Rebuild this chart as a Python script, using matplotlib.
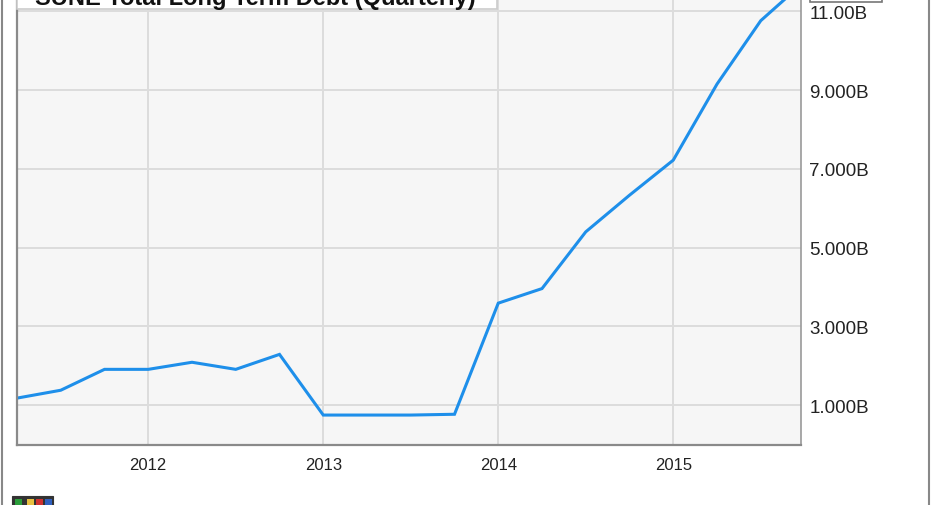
import matplotlib
matplotlib.use("Agg")
import matplotlib.pyplot as plt
from matplotlib.patches import Rectangle

plt.rcParams["font.family"] = ["Liberation Sans", "DejaVu Sans"]

# quarterly long term debt, billions USD
quarters = [2011.25, 2011.5, 2011.75, 2012.0, 2012.25, 2012.5, 2012.75,
            2013.0, 2013.25, 2013.5, 2013.75, 2014.0, 2014.25, 2014.5,
            2014.75, 2015.0, 2015.25, 2015.5, 2015.75]
debt = [1.18, 1.38, 1.91, 1.91, 2.09, 1.91, 2.29,
        0.75, 0.75, 0.75, 0.77, 3.59, 3.96, 5.40,
        6.33, 7.22, 9.15, 10.76, 11.75]

year_ticks = [2012, 2013, 2014, 2015]
y_ticks = [1, 3, 5, 7, 9, 11]
y_labels = ["1.000B", "3.000B", "5.000B", "7.000B", "9.000B", "11.00B"]
title = "SUNE Total Long Term Debt (Quarterly)"

W, H = 931, 506
fig = plt.figure(figsize=(W / 100, H / 100), dpi=100)
fig.patch.set_facecolor("white")

def fx(px): return px / W
def fy(py): return 1 - py / H

ax = fig.add_axes([fx(17), fy(446), fx(801) - fx(17), fy(0) - fy(446)])
ax.set_facecolor("#f6f6f6")
ax.plot(quarters, debt, color="#1e8fea", lw=2.2, solid_joinstyle="miter")
ax.set_xlim(2011.25, 2015.73)
ax.set_ylim(-0.01, 11.31)

ax.set_xticks(year_ticks)
ax.set_xticklabels([str(y) for y in year_ticks])
ax.set_yticks(y_ticks)
ax.set_yticklabels(y_labels)
ax.yaxis.tick_right()
ax.tick_params(axis="both", length=0, colors="#222222")
ax.tick_params(axis="y", pad=6, labelsize=13.5)
ax.tick_params(axis="x", pad=9, labelsize=12)
ax.grid(color="#dcdcdc", lw=1.4)
ax.set_axisbelow(True)
for s in ["left", "bottom"]:
    ax.spines[s].set_color("#8a8a8a")
    ax.spines[s].set_linewidth(1.6)
ax.spines["right"].set_color("#999999")
ax.spines["right"].set_linewidth(1.2)
ax.spines["top"].set_visible(False)

# title box (cut off at the top)
fig.patches.append(Rectangle((fx(17), fy(10)), fx(497) - fx(17), 0.1,
                             transform=fig.transFigure, facecolor="white",
                             edgecolor="#cccccc", lw=1.2, zorder=3))
fig.text(fx(35), fy(5), title, fontsize=17, fontweight="bold", color="#111111",
         va="baseline", ha="left", zorder=4)

# last value box on the right (cut off)
fig.patches.append(Rectangle((fx(810), fy(3)), fx(882) - fx(810), 0.1,
                             transform=fig.transFigure, facecolor="white",
                             edgecolor="#777777", lw=1.2, zorder=3))

# outer frame lines
fig.add_artist(plt.Line2D([fx(1.5), fx(1.5)], [0, 1], transform=fig.transFigure,
                          color="#888888", lw=1.5))
fig.add_artist(plt.Line2D([fx(929), fx(929)], [0, 1], transform=fig.transFigure,
                          color="#888888", lw=1.5))

# logo stub at the bottom-left
fig.patches.append(Rectangle((fx(12), fy(506)), fx(53) - fx(12), fy(497) - fy(506),
                             transform=fig.transFigure, facecolor="#333333",
                             edgecolor="#333333", lw=0.8))
for x0, c in [(15, "#2a9d3a"), (27, "#e8c040"), (36, "#d03030"), (45, "#3060c0")]:
    fig.patches.append(Rectangle((fx(x0), fy(506)), fx(7), fy(500) - fy(506),
                                 transform=fig.transFigure, facecolor=c, lw=0))

fig.savefig("out.png", dpi=100)
